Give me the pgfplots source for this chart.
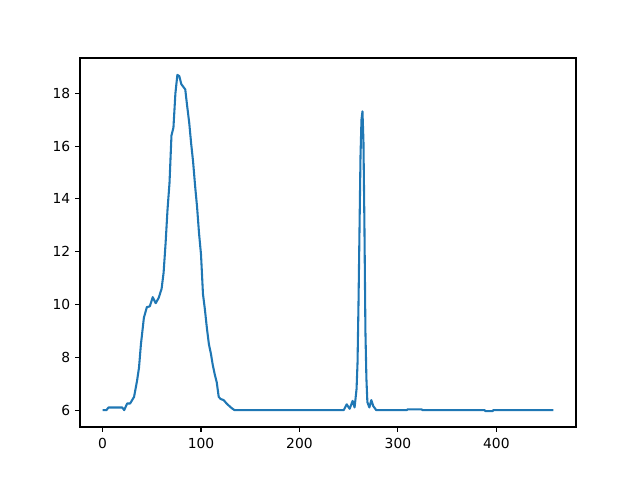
\documentclass[border=0pt]{standalone}
\usepackage{fontspec}
\setmainfont{DejaVu Sans}
\usepackage{pgfplots}
\pgfplotsset{compat=1.18}
\definecolor{mplblue}{HTML}{1F77B4}
\begin{document}
\begin{tikzpicture}
\useasboundingbox (-0.8in,-0.53in) rectangle (5.6in,4.27in);
\begin{axis}[
  scale only axis,
  width=4.96in, height=3.69in,
  at={(0,0)}, anchor=south west,
  xmin=-22.9, xmax=480.9,
  ymin=5.36, ymax=19.34,
  xtick={0,100,200,300,400},
  ytick={6,8,10,12,14,16,18},
  tick align=outside,
  tick pos=left,
  major tick length=3.5pt,
  every tick/.style={black, line width=0.8pt},
  axis line style={line width=0.8pt},
  /pgf/number format/assume math mode=true,
  tick label style={font=\fontsize{10}{12}\selectfont},
  xticklabel style={yshift=-1pt},
  xticklabel style={/pgf/number format/1000 sep={}},
]
\addplot[mplblue, line width=1.5pt, line join=round] coordinates {
(0,6.0) (4,6.0) (6,6.1) (20,6.1) (22,6.0) (25,6.25) (28,6.25) (32,6.5) (35,7.1)
(37,7.6) (39,8.5) (42,9.5) (45,9.9) (48,9.93) (51,10.28) (54,10.05) (57,10.25)
(60,10.6) (62,11.2) (64,12.3) (66,13.6) (68,14.6) (70,16.4) (72,16.7) (74,18.0)
(76,18.7) (78,18.65) (80,18.35) (82,18.25) (84,18.15) (86,17.5) (88,16.9)
(90,16.1) (92,15.4) (94,14.5) (96,13.7) (98,12.7) (100,11.9) (102,10.4)
(104,9.8) (106,9.1) (108,8.5) (110,8.15) (112,7.7) (114,7.35) (116,7.05)
(118,6.5) (120,6.42) (123,6.38) (126,6.25) (128,6.18) (131,6.08) (134,6.0)
(245,6.0) (248,6.22) (251,6.05) (254,6.35) (256,6.1) (258,6.8) (259,7.8)
(260,10.1) (262,15.6) (263,17.0) (264,17.32) (265,16.2) (266,13.0) (267,9.0)
(268,7.2) (269,6.3) (271,6.1) (273,6.38) (275,6.15) (278,6.0)
(309,6.0) (310,6.03) (324,6.03) (325,6.0) (388,6.0) (389,5.96) (396,5.96) (397,6.0) (458,6.0)
};
\end{axis}
\end{tikzpicture}
\end{document}
